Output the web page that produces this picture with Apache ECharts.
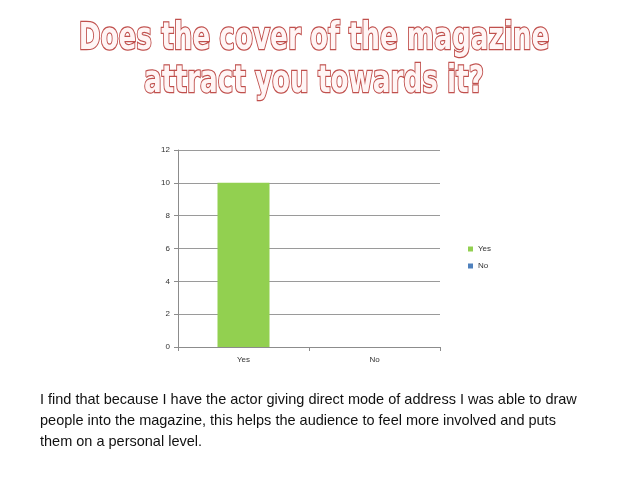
<!DOCTYPE html>
<html>
<head>
<meta charset="utf-8">
<script src="https://cdn.jsdelivr.net/npm/echarts@6/dist/echarts.min.js"></script>
<style>
  html, body { margin: 0; padding: 0; background: #ffffff; }
  #chart { width: 638px; height: 478px; }
</style>
</head>
<body>
<div id="chart"></div>
<script>
// chart data
const categories = ['Yes', 'No'];
const yesValues = [10, '-'];
const noValues = ['-', 0];
const yTicks = [0, 2, 4, 6, 8, 10, 12];

const titleLines = ['Does the cover of the magazine', 'attract you towards it?'];
const bodyText = 'I find that because I have the actor giving direct mode of address I was able to draw\n' +
  'people into the magazine, this helps the audience to feel more involved and puts\n' +
  'them on a personal level.';

const chart = echarts.init(document.getElementById('chart'));

const axisFont = { fontFamily: 'Liberation Sans, sans-serif', fontSize: 8, color: '#333' };

const option = {
  backgroundColor: '#ffffff',
  animation: false,
  graphic: [
    {
      // title is squeezed horizontally to look like the condensed rounded face
      type: 'text',
      x: 314,
      y: 18,
      scaleX: 0.71,
      style: {
        x: 0,
        y: 0,
        text: titleLines.join('\n'),
        fill: '#fff5f5',
        stroke: '#c0504d',
        lineWidth: 2.5,
        font: 'bold 37px "DejaVu Sans", sans-serif',
        lineHeight: 43,
        textAlign: 'center',
        textVerticalAlign: 'top'
      }
    },
    {
      type: 'text',
      left: 40,
      top: 389,
      style: {
        text: bodyText,
        fill: '#111',
        font: '14.5px "Liberation Sans", sans-serif',
        lineHeight: 21
      }
    }
  ],
  legend: {
    orient: 'vertical',
    left: 463,
    top: 240,
    itemWidth: 5,
    itemHeight: 5,
    itemGap: 9,
    icon: 'rect',
    data: categories,
    textStyle: axisFont
  },
  grid: { left: 178, right: 198, top: 150, bottom: 131 },
  xAxis: {
    type: 'category',
    data: categories,
    axisLine: { lineStyle: { color: '#8c8c8c' } },
    axisTick: { show: true, length: 4, lineStyle: { color: '#8c8c8c' } },
    axisLabel: Object.assign({ margin: 9 }, axisFont)
  },
  yAxis: {
    type: 'value',
    min: yTicks[0],
    max: yTicks[yTicks.length - 1],
    interval: 2,
    axisLine: { show: true, lineStyle: { color: '#8c8c8c' } },
    axisTick: { show: true, length: 4, lineStyle: { color: '#8c8c8c' } },
    splitLine: { lineStyle: { color: '#9a9a9a' } },
    axisLabel: Object.assign({ margin: 8 }, axisFont)
  },
  series: [
    {
      name: 'Yes',
      type: 'bar',
      stack: 'one',
      barWidth: 52,
      data: yesValues,
      itemStyle: { color: '#92d050' }
    },
    {
      name: 'No',
      type: 'bar',
      stack: 'one',
      barWidth: 52,
      data: noValues,
      itemStyle: { color: '#4f81bd' }
    }
  ]
};

chart.setOption(option);
</script>
</body>
</html>
